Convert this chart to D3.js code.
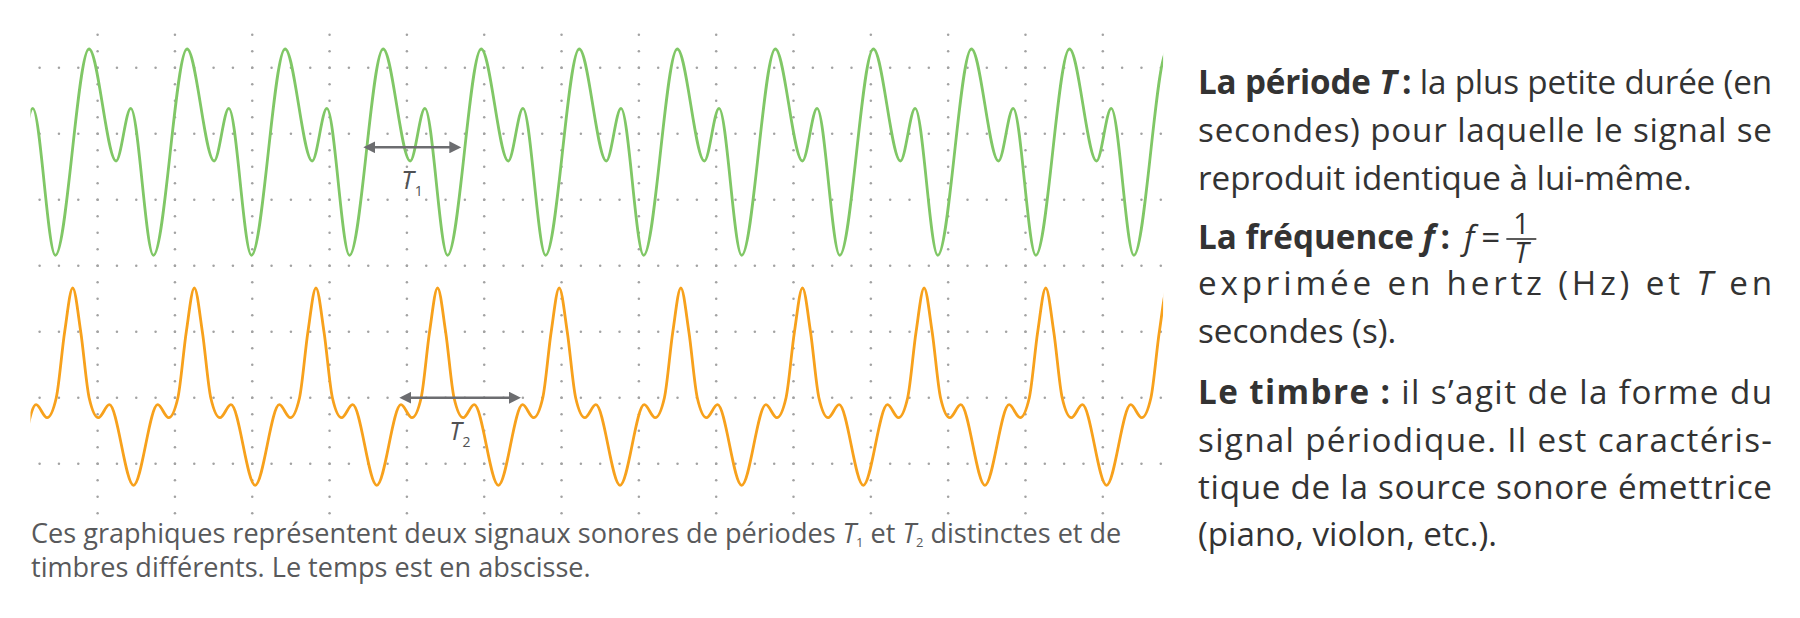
<!DOCTYPE html>
<html>
<head>
<meta charset="utf-8">
<script src="https://cdn.jsdelivr.net/npm/d3@7"></script>
<style>
  body { margin: 0; background: #fff; }
  svg { display: block; }
  text { font-family: "Open Sans", "Noto Sans", sans-serif; }
</style>
</head>
<body>
<svg id="chart" width="1800" height="618"></svg>
<script>
// ---- grid (units: oscilloscope divisions) ----
var colTicks = d3.range(0, 14);          // vertical dotted lines
var rowTicksTop = [1, 0, -1, -2];
var rowTicksBottom = [1, 0, -1];
var rowSpan = [-0.75, 13.75];
var colSpanTop = [1.5, -2];
var colSpanBottom = [1.75, -1.75];
var minorStep = 0.25;

// ---- signals: one period, starting at the big peak ----
var signalSpan = [-0.868, 13.78];

var greenPeriod = 1.268;
var greenFirstPeak = -0.111;
var greenPhase = [0, 0.276, 0.426, 0.657];
var greenLevel = [1.283, -0.414, 0.385, -1.842];

var orangePeriod = 1.573;
var orangeFirstPeak = -0.322;
var orangePhase = [0, 0.066, 0.135, 0.211, 0.301, 0.5, 0.699, 0.789, 0.865, 0.934];
var orangeLevel = [1.662, 1.0, 0, -0.303, -0.106, -1.327, -0.106, -0.303, 0, 1.0];

// ---- period arrows ----
var arrowStart = [3.436, 3.902];
var arrowLevel = [-0.206, 0];
var arrowLabel = ["1", "2"];

// ---- texts ----
var captionLines = [
    [["Ces graphiques représentent deux signaux sonores de périodes ", "r"], ["T", "i"], ["1", "sub"],
     [" et ", "r"], ["T", "i"], ["2", "sub"], [" distinctes et de", "r"]],
    [["timbres différents. Le temps est en abscisse.", "r"]]
];
var noteLines = [
    [["La période ", "b"], ["T", "bi"], ["\u2009: ", "b"], ["la plus petite durée (en", "r"]],
    [["secondes) pour laquelle le signal se", "r"]],
    [["reproduit identique à lui-même.", "r"]],
    [["La fréquence ", "b"], ["f", "bi"], ["\u2009:", "b"]],
    [["exprimée en hertz (Hz) et ", "r"], ["T", "i"], [" en", "r"]],
    [["secondes (s).", "r"]],
    [["Le timbre : ", "b"], ["il s’agit de la forme du", "r"]],
    [["signal périodique. Il est caractéris-", "r"]],
    [["tique de la source sonore émettrice", "r"]],
    [["(piano, violon, etc.).", "r"]]
];
var noteJustify = [1, 1, 0, 0, 1, 0, 1, 1, 1, 0];

var svg = d3.select("#chart");

var x = d3.scaleLinear().domain([0, 13]).range([97.6, 1102.8]);
var yTop = d3.scaleLinear().domain([-2, 2]).range([265.7, 1.7]);
var yBot = d3.scaleLinear().domain([-2, 2]).range([529.7, 265.7]);

// grid dots
var dots = [];
function steps(a, b) {
    var n = Math.round(Math.abs(b - a) / minorStep);
    return d3.range(0, n + 1).map(function (i) { return a + (b > a ? 1 : -1) * i * minorStep; });
}
rowTicksTop.forEach(function (v) {
    steps(rowSpan[0], rowSpan[1]).forEach(function (t) { dots.push([x(t), yTop(v)]); });
});
rowTicksBottom.forEach(function (v) {
    steps(rowSpan[0], rowSpan[1]).forEach(function (t) { dots.push([x(t), yBot(v)]); });
});
colTicks.forEach(function (t) {
    steps(colSpanTop[0], colSpanTop[1]).forEach(function (v) { dots.push([x(t), yTop(v)]); });
    steps(colSpanBottom[0], colSpanBottom[1]).forEach(function (v) { dots.push([x(t), yBot(v)]); });
});

svg.append("g").selectAll("circle")
    .data(dots)
    .enter().append("circle")
    .attr("cx", function (d) { return d[0]; })
    .attr("cy", function (d) { return d[1]; })
    .attr("r", 1.25)
    .attr("fill", "#a2a2a2");

// signals
svg.append("defs").append("clipPath").attr("id", "span")
    .append("rect")
    .attr("x", x(signalSpan[0])).attr("y", 0)
    .attr("width", x(signalSpan[1]) - x(signalSpan[0])).attr("height", 618);

function wave(period, firstPeak, phase, level) {
    var pts = [];
    var k0 = Math.floor((signalSpan[0] - firstPeak) / period) - 1;
    var k1 = Math.ceil((signalSpan[1] - firstPeak) / period) + 1;
    for (var k = k0; k <= k1; k++) {
        phase.forEach(function (p, i) {
            pts.push([firstPeak + (k + p) * period, level[i]]);
        });
    }
    return pts;
}

function drawWave(pts, yScale, colour) {
    var line = d3.line()
        .x(function (d) { return x(d[0]); })
        .y(function (d) { return yScale(d[1]); })
        .curve(d3.curveMonotoneX);
    svg.append("path")
        .attr("clip-path", "url(#span)")
        .attr("d", line(pts))
        .attr("fill", "none")
        .attr("stroke", colour)
        .attr("stroke-width", 2.8);
}

drawWave(wave(greenPeriod, greenFirstPeak, greenPhase, greenLevel), yTop, "#80c766");
drawWave(wave(orangePeriod, orangeFirstPeak, orangePhase, orangeLevel), yBot, "#f7a11c");

// arrows
svg.select("defs").append("marker")
    .attr("id", "head")
    .attr("viewBox", "0 0 12 12")
    .attr("refX", 6).attr("refY", 6)
    .attr("markerWidth", 12).attr("markerHeight", 12)
    .attr("markerUnits", "userSpaceOnUse")
    .attr("orient", "auto-start-reverse")
    .append("path")
    .attr("d", "M0,0L12,6L0,12Z")
    .attr("fill", "#6c6d70");

var periods = [greenPeriod, orangePeriod];
var yScales = [yTop, yBot];
arrowStart.forEach(function (t, i) {
    var x1 = x(t), x2 = x(t + periods[i]), yy = yScales[i](arrowLevel[i]);
    svg.append("line")
        .attr("x1", x1 + 6).attr("x2", x2 - 6)
        .attr("y1", yy).attr("y2", yy)
        .attr("stroke", "#6c6d70").attr("stroke-width", 2.6)
        .attr("marker-start", "url(#head)")
        .attr("marker-end", "url(#head)");
    var lab = svg.append("text")
        .attr("x", (x1 + x2) / 2 - 11)
        .attr("y", yy + 42)
        .attr("fill", "#505153")
        .attr("font-size", 25);
    lab.append("tspan").attr("font-style", "italic").text("T");
    lab.append("tspan").attr("font-size", 14).attr("dy", 7).attr("dx", 1).text(arrowLabel[i]);
});

// styled line writer
function writeLine(sel, parts, subSize) {
    parts.forEach(function (p) {
        var ts = sel.append("tspan").text(p[0]);
        if (p[1] === "b" || p[1] === "bi") ts.attr("font-weight", 700);
        if (p[1] === "i" || p[1] === "bi") ts.attr("font-style", "italic");
        if (p[1] === "sub") ts.attr("font-size", subSize).attr("baseline-shift", "-30%");
    });
}

// caption
var caption = svg.append("g").attr("fill", "#58595b");
var capSize = 22;
var capBase = [543, 577];
captionLines.forEach(function (parts, i) {
    var t = caption.append("text").attr("x", 31).attr("y", capBase[i]).attr("font-size", capSize);
    writeLine(t, parts, 13);
});
var capW = caption.select("text").node().getComputedTextLength();
capSize = capSize * 1094 / capW;
caption.selectAll("text").attr("font-size", capSize);

// note on the right
var note = svg.append("g").attr("fill", "#333333");
var noteBase = [94, 142, 190, 249, 295, 343, 404, 451.5, 498.5, 546];
var noteX = 1198, noteW = 574;
var probe = note.append("text").attr("font-size", 32).text(noteLines[2][0][0]);
var noteSize = 32 * 494 / probe.node().getComputedTextLength();
probe.remove();

noteLines.forEach(function (parts, i) {
    var t = note.append("text")
        .attr("x", noteX).attr("y", noteBase[i])
        .attr("font-size", noteSize);
    writeLine(t, parts, noteSize * 0.6);
    if (noteJustify[i]) {
        t.attr("textLength", noteW).attr("lengthAdjust", "spacing");
    }
    if (i === 3) {
        // f = 1/T
        var end = noteX + t.node().getComputedTextLength();
        var f = note.append("text").attr("x", end + 14).attr("y", noteBase[i])
            .attr("font-size", noteSize).attr("font-style", "italic").text("f");
        var fx = end + 14 + f.node().getComputedTextLength();
        var eq = note.append("text").attr("x", fx + 7).attr("y", noteBase[i])
            .attr("font-size", noteSize).text("=");
        var bx = fx + 7 + eq.node().getComputedTextLength() + 6;
        var by = noteBase[i] - 10;
        var fracSize = noteSize * 0.86;
        note.append("line").attr("x1", bx).attr("x2", bx + 30)
            .attr("y1", by).attr("y2", by)
            .attr("stroke", "#333333").attr("stroke-width", 1.6);
        note.append("text").attr("x", bx + 15).attr("y", by - 5)
            .attr("text-anchor", "middle").attr("font-size", fracSize).text("1");
        note.append("text").attr("x", bx + 15).attr("y", by + 24)
            .attr("text-anchor", "middle").attr("font-size", fracSize)
            .attr("font-style", "italic").text("T");
    }
});
</script>
</body>
</html>
